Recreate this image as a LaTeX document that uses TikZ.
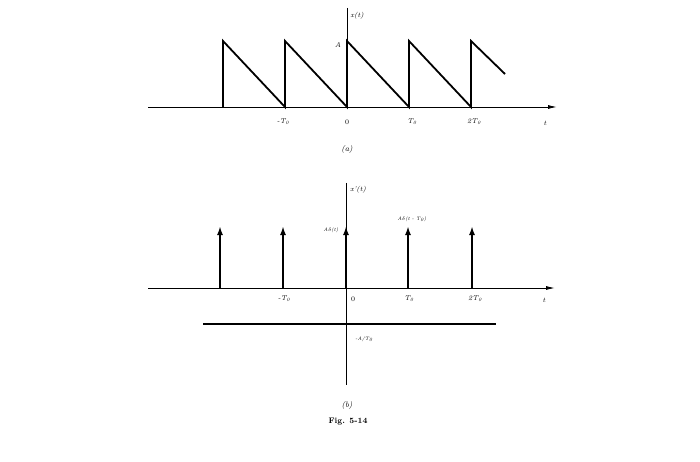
\documentclass[tikz,border=0pt]{standalone}
\usetikzlibrary{arrows.meta}
\begin{document}
\begin{tikzpicture}[x=1pt,y=-1pt,
  ax/.style={line width=0.9pt,-{Latex[length=9pt,width=4pt]}},
  sig/.style={line width=1.8pt},
  imp/.style={line width=1.8pt,-{Latex[length=9pt,width=6pt]}},
  lb/.style={font=\scriptsize\itshape,inner sep=1pt},
  tl/.style={font=\tiny\itshape,inner sep=1pt}]
\useasboundingbox (0,0) rectangle (700,462);
% (a)
\coordinate (a0) at (148,107); \coordinate (a1) at (557,107);
\coordinate (ay0) at (347,8); \coordinate (ay1) at (347,108);
\draw[ax] (a0) -- (a1);
\draw[line width=0.9pt] (ay0) -- (ay1);
\draw[sig,line join=miter] (223,107) -- (223,41) -- (285,107) -- (285,41) -- (347,107) -- (347,41) -- (409,107) -- (409,41) -- (471,107) -- (471,41) -- (505,74);
\node[lb] (xa) at (357,16) {x(t)};
\node[lb] (A) at (338,45) {A};
\node[lb] (m1) at (283,122) {-T\textsubscript{0}};
\node[lb,font=\scriptsize] (z0) at (347,122) {0};
\node[lb] (p1) at (412,122) {T\textsubscript{0}};
\node[lb] (p2) at (474,122) {2T\textsubscript{0}};
\node[lb] (ta) at (545,123) {t};
\node[lb,font=\footnotesize\itshape] (capa) at (347,150) {(\textit{a})};
% (b)
\coordinate (b0) at (148,288); \coordinate (b1) at (555,288);
\coordinate (by0) at (346,183); \coordinate (by1) at (346,385);
\draw[ax] (b0) -- (b1);
\draw[line width=0.9pt] (by0) -- (by1);
\foreach \x in {220,283,346,408,472}{\draw[imp] (\x,288) -- (\x,226);}
\draw[sig] (203,324) -- (496,324);
\node[lb] (xb) at (358,190) {x'(t)};
\node[tl] (d0) at (331,230) {A$\delta$(t)};
\node[tl] (d1) at (412,219) {A$\delta$(t - T\textsubscript{0})};
\node[lb] (bm1) at (284,299) {-T\textsubscript{0}};
\node[lb,font=\scriptsize] (bz) at (353,299) {0};
\node[lb] (bp1) at (409,299) {T\textsubscript{0}};
\node[lb] (bp2) at (475,299) {2T\textsubscript{0}};
\node[lb] (tb) at (544,300) {t};
\node[tl] (mA) at (364,339) {-A/T\textsubscript{0}};
\node[lb,font=\footnotesize\itshape] (capb) at (347,405) {(\textit{b})};
\node[font=\footnotesize\bfseries] (fig) at (348,422) {Fig. 5-14};
\end{tikzpicture}
\end{document}
